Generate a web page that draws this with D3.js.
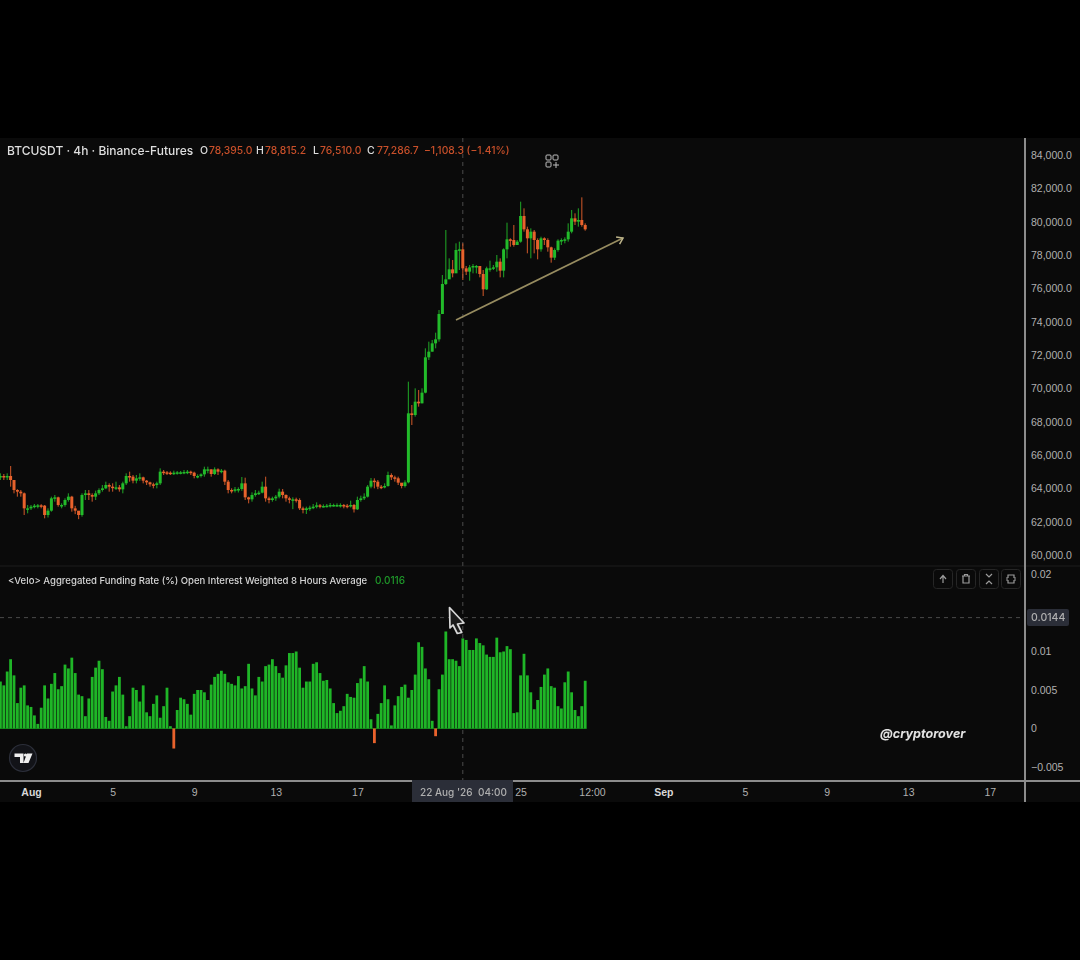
<!DOCTYPE html>
<html>
<head>
<meta charset="utf-8">
<title>BTCUSDT 4h</title>
<script src="https://cdn.jsdelivr.net/npm/d3@7"></script>
<style>
html,body{margin:0;padding:0;background:#000;}
svg{display:block;font-family:Inter,"Open Sans",sans-serif;}
#chart{filter:blur(0.6px);}
.domain,.tick line{display:none;}
</style>
</head>
<body>
<svg width="1080" height="960"></svg>
<script>
//4h candles. open of a candle is the close before it
var firstOpen = 64700
var closes = [
 64740,64700,64740,64500,63900,63800,63700,62800,62800,62900,
 62960,62980,62960,62400,62660,63400,63460,63000,63000,63300,
 63500,62800,62660,62400,63600,63700,63600,63500,63700,63900,
 64000,64200,64100,64060,64060,63940,64300,64740,64700,64460,
 64600,64660,64460,64360,64240,64200,64300,65000,64960,64940,
 64920,64940,64960,64960,64980,65000,64940,64740,64740,64840,
 65140,65140,64860,65140,65000,65060,64400,63900,63860,63940,
 63960,64300,63460,63340,63600,63700,63740,64100,63400,63300,
 63400,63500,63800,63600,63400,63340,63340,63300,62800,62700,
 62800,62840,62900,62980,62940,62940,62960,63000,63000,63000,
 63000,62960,62940,63000,62740,63300,63400,63500,64100,64460,
 64400,64100,64060,64140,64800,64660,64600,64340,64140,64360,
 68500,68400,69200,69100,69740,71860,72200,72700,72940,74460,
 76260,76540,77140,76900,78300,78340,77200,77000,77260,77340,
 77340,76860,75940,77200,77200,77260,77600,77060,78340,78940,
 78900,78600,78800,80340,79540,79000,79400,78900,78340,79000,
 78900,78460,77840,78300,78860,78900,78940,79400,80200,80000,
 80100,79800,79540]
var highs = [
 64900,64860,64900,65340,64500,63950,63900,63750,63000,63000,
 63060,63060,63050,63000,62800,63500,63600,63500,63100,63400,
 63700,63550,62950,62500,63700,63900,63900,63700,63860,64000,
 64200,64400,64300,64300,64400,64200,64400,64900,65000,64800,
 64800,64900,64700,64500,64400,64340,64400,65200,65100,65040,
 65020,65060,65040,65040,65100,65100,65060,65000,64840,64900,
 65300,65300,65140,65260,65200,65160,65120,64500,64000,64080,
 64060,64680,64640,63500,63760,63900,63860,64400,64700,63500,
 63500,63600,63980,63960,63640,63500,63460,63440,63400,62900,
 62900,62960,63060,63160,63060,63040,63060,63120,63080,63100,
 63100,63060,63060,63260,63060,63500,63560,63700,64200,64620,
 64600,64500,64200,64300,65000,64900,64760,64700,64300,64480,
 70400,69000,70000,69900,70000,72400,72800,72900,73340,74700,
 76800,79500,77800,77700,78700,78800,78700,77340,77400,77460,
 77400,77260,77100,77300,77660,77400,78000,77800,78400,79940,
 79000,79800,78900,81200,80800,79700,79600,79500,79000,79100,
 79060,79000,78500,78400,78940,79000,79060,79900,80700,80500,
 80800,81460,79900]
var lows = [
 64500,64500,64500,64100,63700,63500,63500,62400,62500,62700,
 62800,62800,62800,62200,62250,62600,63200,62900,62800,62900,
 63200,62600,62450,62150,62300,63300,63300,63200,63300,63600,
 63800,63950,63800,63800,63900,63800,63700,64200,64400,64300,
 64300,64450,64300,64200,64100,64000,64000,64200,64800,64800,
 64800,64800,64820,64840,64850,64850,64800,64600,64600,64650,
 64700,64900,64700,64800,64800,64900,64200,63700,63700,63750,
 63750,63850,63300,63100,63200,63500,63600,63700,63200,63100,
 63200,63250,63400,63400,63200,63100,62750,63150,62700,62500,
 62460,62650,62750,62800,62800,62850,62850,62850,62900,62880,
 62850,62800,62800,62850,62550,62700,63200,63300,63450,64000,
 64000,63950,63950,64000,64100,64500,64400,64200,64000,64050,
 64300,67800,68300,68900,69100,69700,71700,72200,72400,72800,
 74460,76200,76600,76660,77000,77100,76500,76800,76460,76900,
 76900,76660,75540,75900,77000,77100,77000,76660,76660,77800,
 78500,78500,78600,78740,79400,78100,77800,78100,77740,78200,
 78600,78200,77540,77700,78200,78600,78700,78800,79300,79800,
 79700,79700,79460]

//funding rate, same candles
var funding = [
 .0061,.0056,.0074,.0090,.0069,.0033,.0053,.0056,.0030,.0028,
 .0017,.0006,.0027,.0056,.0039,.0058,.0072,.0051,.0055,.0083,
 .0078,.0092,.0072,.0044,.0042,.0016,.0039,.0067,.0079,.0088,
 .0077,.0015,.0010,.0048,.0056,.0067,.0044,.0003,.0016,.0053,
 .0050,.0035,.0056,.0021,.0016,.0032,.0043,.0014,.0029,.0053,
 .0003,-.0026,.0024,.0040,.0038,.0032,.0018,.0045,.0050,
 .0050,.0047,.0037,.0057,.0067,.0071,.0075,.0071,.0060,.0058,
 .0056,.0068,.0052,.0055,.0084,.0052,.0043,.0067,.0061,.0081,
 .0083,.0090,.0081,.0072,.0066,.0082,.0098,.0098,.0100,.0079,
 .0053,.0061,.0061,.0084,.0086,.0072,.0062,.0063,.0052,.0033,
 .0020,.0023,.0029,.0045,.0041,.0040,.0059,.0065,.0081,.0061,
 .0012,-.0019,.0019,.0033,.0056,.0038,.0004,.0030,.0042,
 .0054,.0057,.0040,.0050,.0070,.0112,.0106,.0078,.0064,.0010,
 -.0010,.0051,.0070,.0126,.0090,.0090,.0088,.0081,.0117,.0115,
 .0102,.0102,.0117,.0111,.0108,.0096,.0093,.0093,.0118,.0099,
 .0100,.0107,.0103,.0020,.0021,.0069,.0097,.0069,.0047,.0025,
 .0037,.0054,.0070,.0078,.0055,.0053,.0029,.0026,.0060,.0074,
 .0047,.0024,.0016,.0029,.0062]

var priceTicks = [84000,82000,80000,78000,76000,74000,72000,70000,68000,66000,64000,62000,60000]
var fundingTicks = [0.02,0.01,0.005,0,-0.005]
var fundingLabels = ["0.02","0.01","0.005","0","\u22120.005"]
var timeTicks = ["2026-08-01","2026-08-05","2026-08-09","2026-08-13","2026-08-17","2026-08-25","2026-08-28T12:00","2026-09-01","2026-09-05","2026-09-09","2026-09-13","2026-09-17"]
var timeLabels = ["Aug","5","9","13","17","25","12:00","Sep","5","9","13","17"]
var firstCandle = "2026-07-30T12:00"
var crosshairTime = "2026-08-22T04:00"
var crosshairRate = 0.0144
var trendTimes = ["2026-08-21T20:00","2026-08-30T00:30"]
var trendPrices = [74100,79020]

var parseTime = function(s)
{
    return new Date(s+(s.length==10 ? "T00:00Z" : "Z"))
}

var colors = {up:"#22bb2a",down:"#e8622c",bg:"#0a0a0a",axis:"#b0b0b0",line:"#8c8c8c"}
var frame = {top:138,bottom:802,axisX:1025,axisY:781}

var svg = d3.select("svg")
var chart = svg.append("g").attr("id","chart")

var xScale = d3.scaleUtc()
    .domain([parseTime("2026-08-01"),parseTime("2026-09-01")])
    .range([31,663.4])
var priceScale = d3.scaleLinear().domain([60000,84000]).range([555,155])
var fundingScale = d3.scaleLinear().domain([-0.005,0.02]).range([767,574.5])

var candleX = function(i)
{
    return xScale(new Date(parseTime(firstCandle).getTime()+i*4*3600*1000))
}

var drawFrame = function()
{
    chart.append("rect")
        .attr("x",0).attr("y",frame.top)
        .attr("width",1080).attr("height",frame.bottom-frame.top)
        .attr("fill",colors.bg)
    chart.append("line")
        .attr("x1",0).attr("x2",1080)
        .attr("y1",566).attr("y2",566)
        .attr("stroke","#1d1d1d")
}

var drawCrosshair = function()
{
    var cx = xScale(parseTime(crosshairTime))
    var cy = fundingScale(crosshairRate)
    chart.append("line")
        .attr("x1",cx).attr("x2",cx)
        .attr("y1",frame.top).attr("y2",frame.axisY)
        .attr("stroke","#4a4a4a")
        .attr("stroke-dasharray","4 4")
    chart.append("line")
        .attr("x1",0).attr("x2",frame.axisX)
        .attr("y1",cy).attr("y2",cy)
        .attr("stroke","#4a4a4a")
        .attr("stroke-dasharray","4 4")
}

var drawCandles = function()
{
    var candles = chart.append("g")
        .selectAll("g")
        .data(closes)
        .enter()
        .append("g")
        .attr("fill",function(c,i)
        {
            var open = i==0 ? firstOpen : closes[i-1]
            return c>=open ? colors.up : colors.down
        })

    candles.append("rect")
        .attr("x",function(c,i){return candleX(i)-0.6})
        .attr("width",1.2)
        .attr("y",function(c,i){return priceScale(highs[i])})
        .attr("height",function(c,i){return priceScale(lows[i])-priceScale(highs[i])})
        .attr("opacity",0.75)

    candles.append("rect")
        .attr("x",function(c,i){return candleX(i)-1.5})
        .attr("width",3)
        .attr("y",function(c,i)
        {
            var open = i==0 ? firstOpen : closes[i-1]
            return priceScale(Math.max(open,c))
        })
        .attr("height",function(c,i)
        {
            var open = i==0 ? firstOpen : closes[i-1]
            return Math.max(1.5,Math.abs(priceScale(open)-priceScale(c)))
        })
}

var drawTrend = function()
{
    var pts = trendTimes.map(function(t,i)
    {
        return [xScale(parseTime(t)),priceScale(trendPrices[i])]
    })
    var end = pts[1]
    var angle = Math.atan2(pts[1][1]-pts[0][1],pts[1][0]-pts[0][0])
    var head = function(turn)
    {
        return [end[0]-7*Math.cos(angle+turn),end[1]-7*Math.sin(angle+turn)]
    }
    chart.append("path")
        .attr("d",d3.line()(pts))
        .attr("fill","none")
        .attr("stroke","#978c60")
        .attr("stroke-width",1.7)
    chart.append("path")
        .attr("d",d3.line()([head(0.6),end,head(-0.6)]))
        .attr("fill","none")
        .attr("stroke","#bdb48a")
        .attr("stroke-width",1.5)
}

var drawFunding = function()
{
    chart.append("line")
        .attr("x1",candleX(0)-1.4).attr("x2",candleX(funding.length-1)+1.4)
        .attr("y1",fundingScale(0)).attr("y2",fundingScale(0))
        .attr("stroke","#0d6a12")
        .attr("stroke-width",1.2)

    chart.append("g")
        .selectAll("rect")
        .data(funding)
        .enter()
        .append("rect")
        .attr("x",function(v,i){return candleX(i)-1.4})
        .attr("width",2.8)
        .attr("y",function(v){return fundingScale(Math.max(v,0))})
        .attr("height",function(v){return Math.abs(fundingScale(v)-fundingScale(0))})
        .attr("fill",function(v){return v>=0 ? "#1fb527" : colors.down})
}

var drawAxes = function()
{
    var priceAxis = d3.axisRight(priceScale)
        .tickValues(priceTicks)
        .tickFormat(d3.format(",.1f"))
        .tickSize(0).tickPadding(6)
    var fundingAxis = d3.axisRight(fundingScale)
        .tickValues(fundingTicks)
        .tickFormat(function(d,i){return fundingLabels[i]})
        .tickSize(0).tickPadding(6)
    var timeAxis = d3.axisBottom(xScale)
        .tickValues(timeTicks.map(parseTime))
        .tickFormat(function(d,i){return timeLabels[i]})
        .tickSize(0).tickPadding(8)

    chart.append("g")
        .attr("transform","translate("+frame.axisX+",0)")
        .call(priceAxis)
    chart.append("g")
        .attr("transform","translate("+frame.axisX+",0)")
        .call(fundingAxis)
    var timeG = chart.append("g")
        .attr("transform","translate(0,"+frame.axisY+")")
        .call(timeAxis)

    chart.selectAll(".tick text")
        .attr("fill",colors.axis)
        .attr("font-size",10.5)
        .attr("font-weight",500)
    timeG.selectAll(".tick text")
        .attr("font-weight",function(d,i){return i==0||i==7 ? 700 : 500})
        .attr("fill",function(d,i){return i==0||i==7 ? "#d8d8d8" : colors.axis})

    chart.append("line")
        .attr("x1",0).attr("x2",1080)
        .attr("y1",frame.axisY).attr("y2",frame.axisY)
        .attr("stroke",colors.line).attr("stroke-width",2)
    chart.append("line")
        .attr("x1",frame.axisX).attr("x2",frame.axisX)
        .attr("y1",frame.top).attr("y2",frame.bottom)
        .attr("stroke",colors.line).attr("stroke-width",2)

    //crosshair labels
    chart.append("rect")
        .attr("x",412).attr("y",frame.axisY-1)
        .attr("width",101).attr("height",22)
        .attr("fill","#2b2e38")
    chart.append("text")
        .text("22 Aug '26")
        .attr("x",420).attr("y",796)
        .attr("fill",colors.axis).attr("font-size",10).attr("font-weight",500)
    chart.append("text")
        .text("04:00")
        .attr("x",478).attr("y",796)
        .attr("fill",colors.axis).attr("font-size",10).attr("font-weight",500)
    chart.append("rect")
        .attr("x",1027).attr("y",fundingScale(crosshairRate)-8.5)
        .attr("width",42).attr("height",17).attr("rx",2)
        .attr("fill","#2b2e38")
    chart.append("text")
        .text("0.0144")
        .attr("x",1031).attr("y",fundingScale(crosshairRate)+3.8)
        .attr("fill",colors.axis).attr("font-size",10.5).attr("font-weight",500)
}

var addText = function(str,x,y,size,color,weight)
{
    return chart.append("text")
        .text(str)
        .attr("x",x).attr("y",y)
        .attr("font-size",size)
        .attr("fill",color)
        .attr("font-weight",weight||400)
}

var drawLabels = function()
{
    addText("BTCUSDT \u00b7 4h \u00b7 Binance-Futures",7,154.5,12,"#dedede",500)
    var red = "#c9502a"
    addText("O",200,154,10.5,"#dedede",500)
    addText("78,395.0",209,154,10.3,red,500)
    addText("H",256,154,10.5,"#dedede",500)
    addText("78,815.2",265,154,10.3,red,500)
    addText("L",313,154,10.5,"#dedede",500)
    addText("76,510.0",320,154,10.3,red,500)
    addText("C",367,154,10.5,"#dedede",500)
    addText("77,286.7",377,154,10.3,red,500)
    addText("\u22121,108.3 (\u22121.41%)",424,154,10.3,red,500)

    addText("<Velo> Aggregated Funding Rate (%) Open Interest Weighted 8 Hours Average",8,583.5,9.55,"#d6d6d6",500)
    addText("0.0116",375,583.5,10,"#1f9a2a",500)

    addText("@cryptorover",880,737.5,12.6,"#e2e2e2",700)
        .attr("font-style","italic")
}

var drawIcons = function()
{
    //layout icon next to the header
    var squares = [[546,155],[553,155],[546,162]]
    squares.forEach(function(s)
    {
        chart.append("rect")
            .attr("x",s[0]).attr("y",s[1])
            .attr("width",5).attr("height",5).attr("rx",1)
            .attr("fill","none").attr("stroke","#bdbdbd")
    })
    chart.append("path")
        .attr("d","M553 165H559M556 162V168")
        .attr("fill","none")
        .attr("stroke","#bdbdbd")

    //pane buttons
    var buttons = [
        {x:943,d:"M-3 0L0-3.5L3 0M0-3.5V4"},
        {x:966,d:"M-4-3H4M-3-3V4H3V-3M-1.5-3V-4.5H1.5V-3"},
        {x:989,d:"M-3-5L0-2L3-5M-3 5L0 2L3 5"},
        {x:1011,d:"M-3-1V-4H3V-1M-3 1V4H3V1M-5-1H-3M3-1H5M-5 1H-3M3 1H5"}
    ]
    var pane = chart.append("g")
        .selectAll("g")
        .data(buttons)
        .enter()
        .append("g")
        .attr("transform",function(b){return "translate("+b.x+",579)"})
    pane.append("rect")
        .attr("x",-9.5).attr("y",-9.5)
        .attr("width",19).attr("height",19).attr("rx",3)
        .attr("fill","none").attr("stroke","#262626")
    pane.append("path")
        .attr("d",function(b){return b.d})
        .attr("fill","none").attr("stroke","#9c9c9c").attr("stroke-width",1.2)

    //tradingview badge
    chart.append("circle")
        .attr("cx",23).attr("cy",758).attr("r",13.5)
        .attr("fill","#121318").attr("stroke","#2c2f3a").attr("stroke-width",1.2)
    chart.append("path")
        .attr("d","M14.5 753.5H23.5V763H20V757H14.5ZM27 753.5H32.5L28.5 763H23.5Z")
        .attr("fill","#efefef")
    chart.append("circle")
        .attr("cx",25.5).attr("cy",755).attr("r",1.6)
        .attr("fill","#efefef")

    //mouse cursor
    chart.append("path")
        .attr("d","M449.5 607.5L464 623L457.5 624L461.8 632.5L457.3 633.5L453 625L450 628Z")
        .attr("fill","#1b1b1b").attr("stroke","#d8d8d8").attr("stroke-width",1.7)
        .attr("stroke-linejoin","round")
}

drawFrame()
drawCrosshair()
drawCandles()
drawTrend()
drawFunding()
drawAxes()
drawLabels()
drawIcons()
</script>
</body>
</html>
